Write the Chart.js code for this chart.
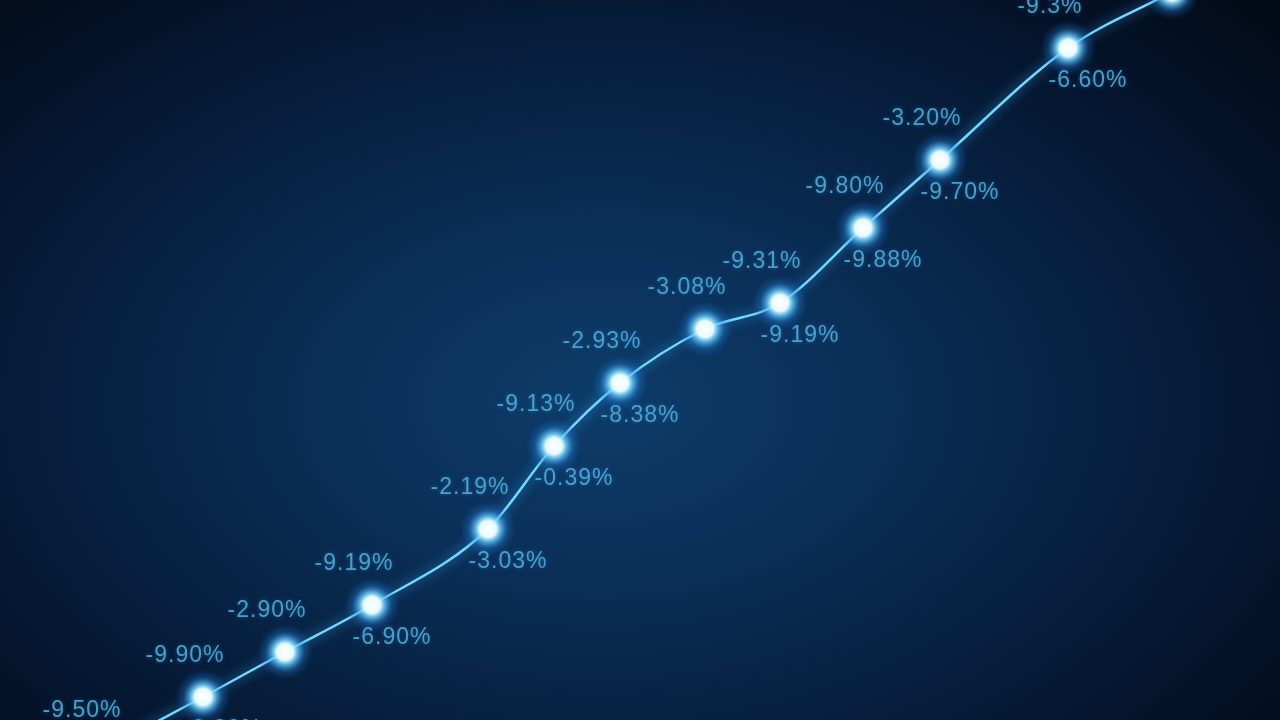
<!DOCTYPE html>
<html>
<head>
<meta charset="utf-8">
<script src="https://cdn.jsdelivr.net/npm/chart.js@4.4.1/dist/chart.umd.min.js"></script>
<style>
  html, body { margin: 0; padding: 0; background: #030d1c; overflow: hidden; }
  #wrap {
    width: 1280px; height: 720px;
    background: radial-gradient(ellipse 70% 80% at 47% 56%, #0d3c6a 0%, #0a2f58 30%, #07203f 58%, #04132a 82%, #030b18 100%);
  }
</style>
</head>
<body>
<div id="wrap"><canvas id="myChart" width="1280" height="720"></canvas></div>
<script>
// ***** datos *****
const steps = ['P0', 'P1', 'P2', 'P3', 'P4', 'P5', 'P6', 'P7', 'P8', 'P9', 'P10', 'P11', 'P12']
const xValues = [10.0, 20.3, 28.5, 37.2, 48.8, 55.4, 62.0, 70.5, 78.0, 86.3, 94.0, 106.8, 117.2]
const yValues = [-3.2, 2.3, 6.8, 11.5, 19.1, 27.4, 33.7, 39.1, 41.7, 49.2, 56.0, 67.2, 72.8]
const upperLabels = ['-9.50%', '-9.90%', '-2.90%', '-9.19%', '-2.19%', '-9.13%', '-2.93%', '-3.08%', '-9.31%', '-9.80%', '-3.20%', '-9.3%', '']
const lowerLabels = ['', '-9.30%', '', '-6.90%', '-3.03%', '-0.39%', '-8.38%', '', '-9.19%', '-9.88%', '-9.70%', '-6.60%', '']
// ***** fin datos *****

const points = steps.map((s, i) => ({ x: xValues[i], y: yValues[i] }))

// brillo de la linea
const lineGlow = {
  id: 'lineGlow',
  beforeDatasetDraw(chart) {
    const c = chart.ctx
    c.save()
    c.shadowColor = 'rgba(60, 180, 255, 0.9)'
    c.shadowBlur = 12
  },
  afterDatasetDraw(chart) {
    chart.ctx.restore()
  }
}

// puntos brillantes + etiquetas
const glowLabels = {
  id: 'glowLabels',
  afterDatasetsDraw(chart) {
    const c = chart.ctx
    const meta = chart.getDatasetMeta(0)
    meta.data.forEach(pt => {
      const g = c.createRadialGradient(pt.x, pt.y, 0, pt.x, pt.y, 28)
      g.addColorStop(0, 'rgba(255,255,255,1)')
      g.addColorStop(0.3, 'rgba(230,250,255,1)')
      g.addColorStop(0.45, 'rgba(110,210,255,0.8)')
      g.addColorStop(0.7, 'rgba(40,140,230,0.3)')
      g.addColorStop(1, 'rgba(20,100,200,0)')
      c.save()
      c.fillStyle = g
      c.beginPath()
      c.arc(pt.x, pt.y, 28, 0, Math.PI * 2)
      c.fill()
      c.restore()
    })

    c.save()
    c.font = '23px "Liberation Sans", Arial, sans-serif'
    c.letterSpacing = '1px'
    c.textAlign = 'center'
    c.textBaseline = 'middle'
    c.fillStyle = 'rgba(84, 170, 210, 0.9)'
    c.shadowColor = 'rgba(40, 150, 230, 0.5)'
    c.shadowBlur = 4
    meta.data.forEach((pt, i) => {
      if (upperLabels[i]) c.fillText(upperLabels[i], pt.x - 18, pt.y - 41)
      if (lowerLabels[i]) c.fillText(lowerLabels[i], pt.x + 20, pt.y + 33)
    })
    c.restore()
  }
}

const ctx = document.getElementById('myChart').getContext('2d')
const myChart = new Chart(ctx, {
  type: 'line',
  data: {
    labels: steps,
    datasets: [{
      data: points,
      borderColor: '#72d8ff',
      borderWidth: 2.5,
      cubicInterpolationMode: 'monotone',
      pointRadius: 0,
      pointHoverRadius: 0,
      fill: false,
      clip: false
    }]
  },
  options: {
    responsive: false,
    animation: false,
    layout: { padding: 0 },
    plugins: {
      legend: { display: false },
      tooltip: { enabled: false }
    },
    scales: {
      x: { type: 'linear', min: 0, max: 128, display: false },
      y: { type: 'linear', min: 0, max: 72, display: false }
    }
  },
  plugins: [lineGlow, glowLabels]
})
</script>
</body>
</html>
